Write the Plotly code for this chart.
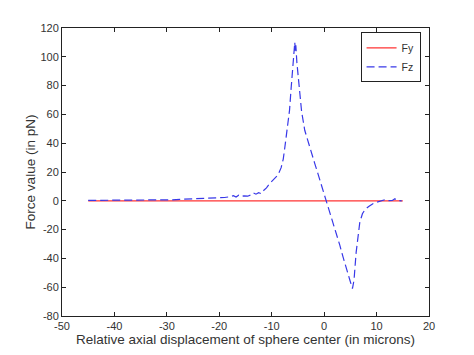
import plotly.graph_objects as go

# Data
fy_x = [-45, 15]
fy_y = [0, 0]

fz_x = [-45, -43, -41, -39, -37, -35, -33, -31, -29, -27.5, -26, -24, -22, -20, -19, -18,
        -17.3, -16.8, -16.3, -15.8, -15.3, -14.6, -14, -13.5, -13, -12.5, -12, -11.6, -11,
        -10.4, -9.5, -8.8, -8.2, -7.8, -7.5, -7.0, -6.6, -6.3, -6.0, -5.8, -5.6, -5.5, -5.4,
        -5.2, -4.9, -4.6, -4.3, -3.7, -3.0, -2.4, -1.8, -1.2, -0.6, -0.2, 0.4, 1.0, 1.6, 2.3,
        3.0, 3.6, 4.2, 4.9, 5.4, 5.7, 6.1, 6.5, 6.8, 7.3, 7.8, 8.5, 9.3, 10.0, 10.6, 11.2,
        11.6, 12.0, 12.6, 13.0, 13.5, 14.0, 14.8]
fz_y = [0.3, 0.3, 0.4, 0.3, 0.4, 0.4, 0.5, 0.5, 0.7, 1.0, 1.2, 1.3, 1.4, 1.8, 2.3, 2.8,
        3.6, 2.6, 3.9, 3.0, 3.4, 3.2, 4.0, 5.5, 4.6, 5.6, 5.0, 7.0, 9.0,
        12, 15, 18, 23, 29, 37, 50, 63, 78, 92, 103, 110, 104, 108,
        96, 83, 70, 62, 49, 40, 33, 26, 19, 12, 7.5, 0, -6.5, -14, -23,
        -31, -39, -47, -55, -61, -55, -36, -22, -15, -9, -6, -4, -2, -1, -0.3, 0.6,
        0.8, 0.1, 0.2, 0.2, 1.4, 0.1, 0]

x_ticks = [-50, -40, -30, -20, -10, 0, 10, 20]
y_ticks = [-80, -60, -40, -20, 0, 20, 40, 60, 80, 100, 120]

FONT = "Liberation Sans, Arial, sans-serif"

fig = go.Figure()
fig.add_trace(go.Scatter(x=fy_x, y=fy_y, mode="lines", name="Fy",
                         line=dict(color="#ff3333", width=1.2)))
fig.add_trace(go.Scatter(x=fz_x, y=fz_y, mode="lines", name="Fz",
                         line=dict(color="#3838e8", width=1.2, dash="8px,4px")))

axis_common = dict(
    showline=True, linecolor="#222222", linewidth=1, mirror="ticks",
    ticks="inside", ticklen=4, tickcolor="#222222", showgrid=False, zeroline=False,
    automargin=False,
    tickfont=dict(family=FONT, size=11, color="#333333"),
)

fig.update_xaxes(range=[-50, 20], tickvals=x_ticks,
                 ticktext=[str(v) for v in x_ticks],
                 title=dict(text="Relative axial displacement of sphere center (in microns)",
                            font=dict(family=FONT, size=13.5, color="#333333"),
                            standoff=2),
                 **axis_common)
fig.update_yaxes(range=[-80, 120], tickvals=y_ticks,
                 ticktext=[str(v) for v in y_ticks],
                 title=dict(text="Force value (in pN)",
                            font=dict(family=FONT, size=13.5, color="#333333"),
                            standoff=1),
                 **axis_common)

fig.update_layout(
    width=474, height=355,
    margin=dict(l=62, r=45, t=28, b=39),
    plot_bgcolor="white", paper_bgcolor="white",
    showlegend=True,
    legend=dict(x=0.977, y=0.985, xanchor="right", yanchor="top",
                bordercolor="#222222", borderwidth=1, bgcolor="white",
                font=dict(family=FONT, size=10.5, color="#333333"),
                tracegroupgap=0, itemwidth=30),
)

fig.write_html("out.html", config={"displayModeBar": False},
               post_script="document.body.style.margin='0';document.body.style.padding='0';")
